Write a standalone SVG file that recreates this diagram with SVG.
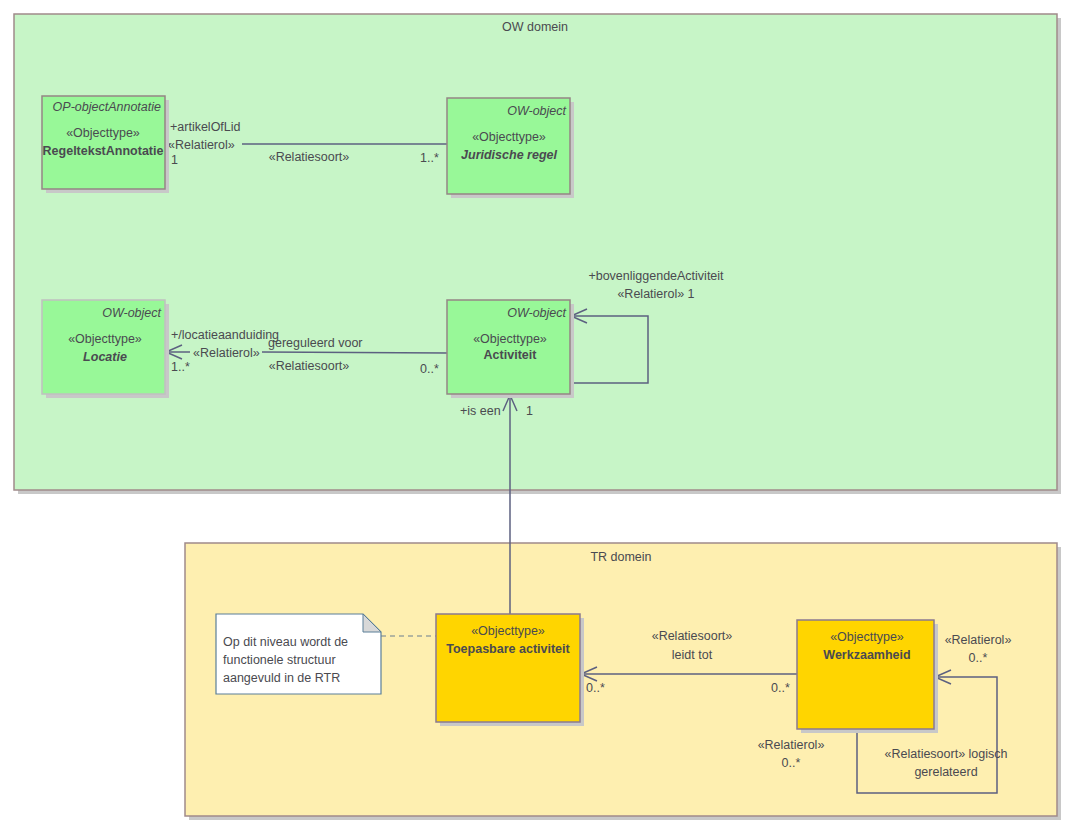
<svg xmlns="http://www.w3.org/2000/svg" width="1072" height="832" viewBox="0 0 1072 832">
<defs>
<style>
text{font-family:"Liberation Sans",Arial,sans-serif;font-size:12.5px;fill:#4a4a50}
.b{font-weight:bold}
.i{font-style:italic}
.bi{font-weight:bold;font-style:italic}
.frameOW{fill:#c7f5c7;stroke:#a08a8a;stroke-width:1.5}
.frameTR{fill:#feefb0;stroke:#a08a8a;stroke-width:1.5}
.shadow{fill:#c8c8c8}
.ng{fill:#98f898;stroke:#958585;stroke-width:1.5}
.ng2{fill:#98f898;stroke:#c0c0c0;stroke-width:1.5}
.ny{fill:#ffd500;stroke:#8a7a90;stroke-width:1.5}
.ln{fill:none;stroke:#5c6080;stroke-width:1.5}
.dash{fill:none;stroke:#6a7f90;stroke-width:1.2;stroke-dasharray:5,4}
.note{fill:#ffffff;stroke:#5a7f98;stroke-width:1.2}
</style>
<marker id="open" markerWidth="20" markerHeight="18" refX="18" refY="9" orient="auto" markerUnits="userSpaceOnUse">
<path d="M2,2 L18,9 L2,16" fill="none" stroke="#5c6080" stroke-width="1.5"/>
</marker>
</defs>

<g id="frame-ow">
<rect x="18" y="18" width="1043" height="476" class="shadow"/>
<rect x="14" y="14" width="1043" height="476" class="frameOW"/>
<text x="535" y="31" text-anchor="middle">OW domein</text>
</g>
<g id="frame-tr">
<rect x="189" y="547" width="872" height="273" class="shadow"/>
<rect x="185" y="543" width="872" height="273" class="frameTR"/>
<text x="621" y="561" text-anchor="middle">TR domein</text>
</g>

<g id="connectors">
<line x1="165" y1="144" x2="170" y2="144" class="ln"/>
<line x1="242" y1="144" x2="447" y2="144" class="ln"/>
<line x1="447" y1="353" x2="262" y2="352" class="ln"/>
<line x1="190" y1="352" x2="166" y2="352" class="ln" marker-end="url(#open)"/>
<polyline points="570,383 648,383 648,316 571,316" class="ln" marker-end="url(#open)"/>
<line x1="510" y1="614" x2="510" y2="395" class="ln" marker-end="url(#open)"/>
<line x1="797" y1="674" x2="581" y2="674" class="ln" marker-end="url(#open)"/>
<polyline points="857,729 857,793 997,793 997,677 935,677" class="ln" marker-end="url(#open)"/>
<line x1="381" y1="636" x2="436" y2="636" class="dash"/>
<text x="170" y="131">+artikelOfLid</text>
<text x="168" y="149">«Relatierol»</text>
<text x="171" y="164">1</text>
<text x="309" y="161" text-anchor="middle">«Relatiesoort»</text>
<text x="420" y="162">1..*</text>
<text x="268" y="347">gereguleerd voor</text>
<text x="171" y="339">+/locatieaanduiding</text>
<text x="193" y="357">«Relatierol»</text>
<text x="171" y="371">1..*</text>
<text x="309" y="370" text-anchor="middle">«Relatiesoort»</text>
<text x="420" y="373">0..*</text>
<text x="656" y="280" text-anchor="middle">+bovenliggendeActiviteit</text>
<text x="656" y="298" text-anchor="middle">«Relatierol» 1</text>
<text x="460" y="415">+is een</text>
<text x="526" y="415">1</text>
<text x="692" y="640" text-anchor="middle">«Relatiesoort»</text>
<text x="692" y="659" text-anchor="middle">leidt tot</text>
<text x="586" y="692">0..*</text>
<text x="771" y="692">0..*</text>
<text x="978" y="644" text-anchor="middle">«Relatierol»</text>
<text x="978" y="662" text-anchor="middle">0..*</text>
<text x="791" y="749" text-anchor="middle">«Relatierol»</text>
<text x="791" y="767" text-anchor="middle">0..*</text>
<text x="946" y="758" text-anchor="middle">«Relatiesoort» logisch</text>
<text x="946" y="776" text-anchor="middle">gerelateerd</text>
</g>

<g id="node-regeltekstannotatie">
<rect x="46" y="100" width="123" height="93" class="shadow"/>
<rect x="42" y="96" width="123" height="93" class="ng"/>
<text x="161" y="111" text-anchor="end" class="i">OP-objectAnnotatie</text>
<text x="103" y="137" text-anchor="middle">«Objecttype»</text>
<text x="103" y="155" text-anchor="middle" class="b">RegeltekstAnnotatie</text>
</g>

<g id="node-juridische-regel">
<rect x="451" y="102" width="123" height="96" class="shadow"/>
<rect x="447" y="98" width="123" height="96" class="ng"/>
<text x="566" y="115" text-anchor="end" class="i">OW-object</text>
<text x="509" y="141" text-anchor="middle">«Objecttype»</text>
<text x="509" y="159" text-anchor="middle" class="bi">Juridische regel</text>
</g>

<g id="node-locatie">
<rect x="46" y="304" width="123" height="94" class="shadow"/>
<rect x="42" y="300" width="123" height="94" class="ng2"/>
<text x="161" y="317" text-anchor="end" class="i">OW-object</text>
<text x="105" y="343" text-anchor="middle">«Objecttype»</text>
<text x="105" y="361" text-anchor="middle" class="bi">Locatie</text>
</g>

<g id="node-activiteit">
<rect x="451" y="304" width="123" height="94" class="shadow"/>
<rect x="447" y="300" width="123" height="94" class="ng"/>
<text x="566" y="317" text-anchor="end" class="i">OW-object</text>
<text x="510" y="343" text-anchor="middle">«Objecttype»</text>
<text x="510" y="359" text-anchor="middle" class="b">Activiteit</text>
</g>

<g id="node-note">
<path d="M216,614 L363,614 L381,632 L381,694 L216,694 Z" class="note"/>
<path d="M363,614 L363,632 L381,632 Z" fill="#d8d8d8" stroke="#5a7f98" stroke-width="1"/>
<text x="223" y="646">Op dit niveau wordt de</text>
<text x="223" y="664">functionele structuur</text>
<text x="223" y="682">aangevuld in de RTR</text>
</g>

<g id="node-toepasbare-activiteit">
<rect x="440" y="618" width="144" height="108" class="shadow"/>
<rect x="436" y="614" width="144" height="108" class="ny"/>
<text x="508" y="635" text-anchor="middle">«Objecttype»</text>
<text x="508" y="653" text-anchor="middle" class="b">Toepasbare activiteit</text>
</g>

<g id="node-werkzaamheid">
<rect x="801" y="624" width="137" height="109" class="shadow"/>
<rect x="797" y="620" width="137" height="109" class="ny"/>
<text x="867" y="641" text-anchor="middle">«Objecttype»</text>
<text x="867" y="659" text-anchor="middle" class="b">Werkzaamheid</text>
</g>
</svg>
